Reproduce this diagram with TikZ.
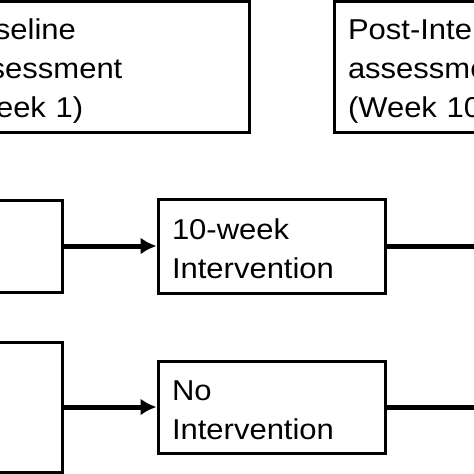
\documentclass[tikz,border=0pt]{standalone}
\usepackage{fontspec}
\setmainfont{Liberation Sans}[FakeStretch=1.08]
\usepackage{tikz}
\usetikzlibrary{arrows.meta}
\tikzset{>={Latex[length=16pt,width=17pt]}}

\begin{document}
\begin{tikzpicture}[x=1pt, y=-1pt]
        % y runs downward, one unit = one pixel of the frame
        \tikzstyle{every node}=[rectangle, draw=black, line width=3pt, inner xsep=14pt, inner ysep=0pt, align=left, font=\fontsize{28.7pt}{39pt}\selectfont]
        \tikzstyle{every edge}=[black, ->, line width=5pt, draw]
        \useasboundingbox (0,0) rectangle (474,474);
        \clip (0,0) rectangle (474,474);

        \node[minimum width=306pt, minimum height=130.5pt, text width=278pt, text height=29pt] (base) at (96,66.75) {Baseline\\assessment\\(Week 1)};
        \node[minimum width=306pt, minimum height=130.5pt, text width=278pt, text height=29pt] (post) at (487,66.75) {Post-Intervention\\assessment\\(Week 10)};

        \node[minimum width=200pt, minimum height=92pt] (grpA) at (-38,246) {};
        \node[minimum width=227pt, minimum height=94pt, text width=199pt, text height=25.5pt] (interv) at (271.5,246) {10-week\\Intervention};
        \draw (grpA) edge (interv);
        \coordinate (outA) at (500,246);
        \draw[line width=5pt] (interv) -- (outA);

        \node[minimum width=200pt, minimum height=130pt] (grpB) at (-38,407) {};
        \node[minimum width=227pt, minimum height=92pt, text width=199pt, text height=25.5pt] (nointerv) at (271.5,407) {No\\Intervention};
        \draw (grpB) edge (nointerv);
        \coordinate (outB) at (500,407);
        \draw[line width=5pt] (nointerv) -- (outB);
\end{tikzpicture}
\end{document}
